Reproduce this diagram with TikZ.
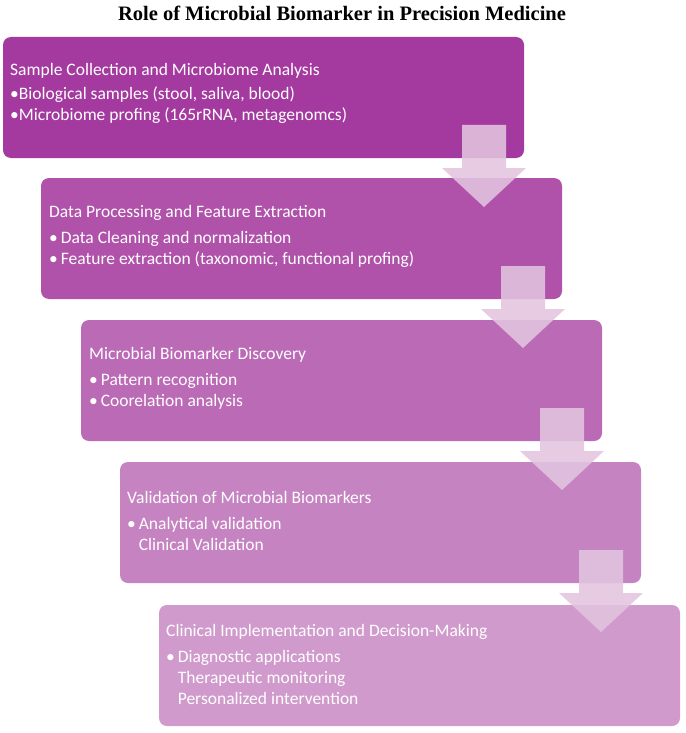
\documentclass[tikz,border=0pt]{standalone}
\usepackage{fontspec}
\setmainfont{Carlito}
\newfontfamily\titlefont{Liberation Serif}
\begin{document}
\begin{tikzpicture}[x=1pt,y=-1pt,
  box/.style={rounded corners=8pt, draw=none},
  txt/.style={anchor=north west, align=left, font=\fontsize{17.5}{21}\selectfont, text=white, inner sep=0pt},
  arr/.style={fill=arrowc, fill opacity=0.88, draw=none}]
\definecolor{c1}{HTML}{A43A9F}
\definecolor{c2}{HTML}{B052AA}
\definecolor{c3}{HTML}{BB6AB6}
\definecolor{c4}{HTML}{C583C1}
\definecolor{c5}{HTML}{D09ACC}
\definecolor{arrowc}{HTML}{E2C4DF}
\useasboundingbox (0,0) rectangle (685,733);
\node (title) at (342,13) {\titlefont\bfseries\fontsize{20.5}{24}\selectfont Role of Microbial Biomarker in Precision Medicine};
% boxes
\foreach \i/\x/\y/\c in {1/3/37/c1, 2/41/178/c2, 3/81/320/c3, 4/120/462/c4, 5/159/605/c5}{
  \fill[box,\c] (\x,\y) rectangle ++(521,121);
  \coordinate (b\i) at (\x,\y);
}
% arrows
\foreach \ax/\ay in {484/125, 523/266, 562/408, 601/550}{
  \fill[arr] (\ax-22,\ay) -- (\ax+22,\ay) -- (\ax+22,\ay+43) -- (\ax+42,\ay+43)
    -- (\ax,\ay+82) -- (\ax-42,\ay+43) -- (\ax-22,\ay+43) -- cycle;
}
\node[txt] (t1) at (10,63) {Sample Collection and Microbiome Analysis\\[3pt]
  \textbullet Biological samples (stool, saliva, blood)\\
  \textbullet Microbiome profing (165rRNA, metagenomcs)};
\node[txt] (t2) at (49,205) {Data Processing and Feature Extraction\\[5pt]
  \textbullet\,Data Cleaning and normalization\\
  \textbullet\,Feature extraction (taxonomic, functional profing)};
\node[txt] (t3) at (89,347) {Microbial Biomarker Discovery\\[5pt]
  \textbullet\,Pattern recognition\\
  \textbullet\,Coorelation analysis};
\node[txt] (t4) at (127,491) {Validation of Microbial Biomarkers\\[5pt]
  \textbullet\,Analytical validation\\
  \hphantom{\textbullet\,}Clinical Validation};
\node[txt] (t5) at (166,624) {Clinical Implementation and Decision-Making\\[5pt]
  \textbullet\,Diagnostic applications\\
  \hphantom{\textbullet\,}Therapeutic monitoring\\
  \hphantom{\textbullet\,}Personalized intervention};
\end{tikzpicture}
\end{document}
